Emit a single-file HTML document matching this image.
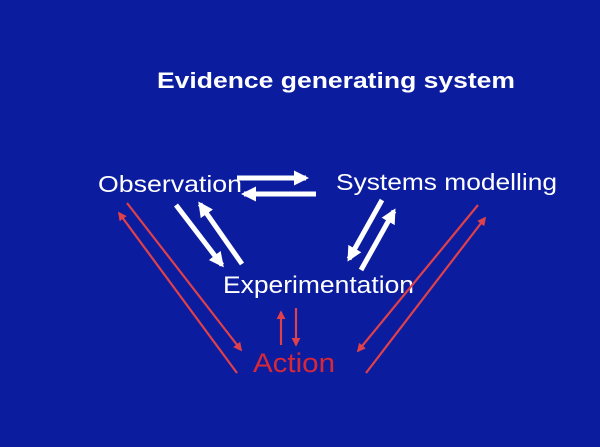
<!DOCTYPE html>
<html><head><meta charset="utf-8"><style>
html,body{margin:0;padding:0;background:#0b1d9e}
svg{display:block}
</style></head><body>
<svg width="600" height="447" viewBox="0 0 600 447" xmlns="http://www.w3.org/2000/svg" font-family="Liberation Sans, Arial, sans-serif">
<defs>
<marker id="wa" viewBox="0 0 10 10" refX="8" refY="5" markerWidth="3" markerHeight="3" orient="auto"><path d="M0,0 L10,5 L0,10 z" fill="#fff"/></marker>
<marker id="ra" viewBox="0 0 10 10" refX="8" refY="5" markerWidth="4" markerHeight="4" orient="auto"><path d="M0,0 L10,5 L0,10 z" fill="#e0404a"/></marker>
</defs>
<rect width="600" height="447" fill="#0b1d9e"/>
<text x="157" y="88" fill="#fff" font-size="22" font-weight="bold" textLength="358" lengthAdjust="spacingAndGlyphs">Evidence generating system</text>
<text x="98" y="192" fill="#fff" font-size="23" textLength="144" lengthAdjust="spacingAndGlyphs">Observation</text>
<text x="336" y="190" fill="#fff" font-size="23" textLength="221" lengthAdjust="spacingAndGlyphs">Systems modelling</text>
<text x="223" y="293" fill="#fff" font-size="24" textLength="191" lengthAdjust="spacingAndGlyphs">Experimentation</text>
<text x="253" y="372" fill="#d82838" font-size="27" textLength="82" lengthAdjust="spacingAndGlyphs">Action</text>
<g stroke="#fff" stroke-width="5" fill="none">
<line x1="237" y1="178" x2="306" y2="178" marker-end="url(#wa)"/>
<line x1="316" y1="194" x2="244" y2="194" marker-end="url(#wa)"/>
<line x1="176" y1="205" x2="222" y2="265" marker-end="url(#wa)"/>
<line x1="242" y1="264" x2="200" y2="204" marker-end="url(#wa)"/>
<line x1="382" y1="200" x2="349" y2="259" marker-end="url(#wa)"/>
<line x1="361" y1="270" x2="394" y2="211" marker-end="url(#wa)"/>
</g>
<g stroke="#e0404a" stroke-width="2.2" fill="none">
<line x1="237" y1="373" x2="119" y2="213" marker-end="url(#ra)"/>
<line x1="127" y1="203" x2="241" y2="350" marker-end="url(#ra)"/>
<line x1="478" y1="205" x2="358" y2="351" marker-end="url(#ra)"/>
<line x1="366" y1="373" x2="485" y2="218" marker-end="url(#ra)"/>
<line x1="281" y1="345" x2="281" y2="312" marker-end="url(#ra)"/>
<line x1="296" y1="308" x2="296" y2="345" marker-end="url(#ra)"/>
</g>
</svg>
</body></html>
